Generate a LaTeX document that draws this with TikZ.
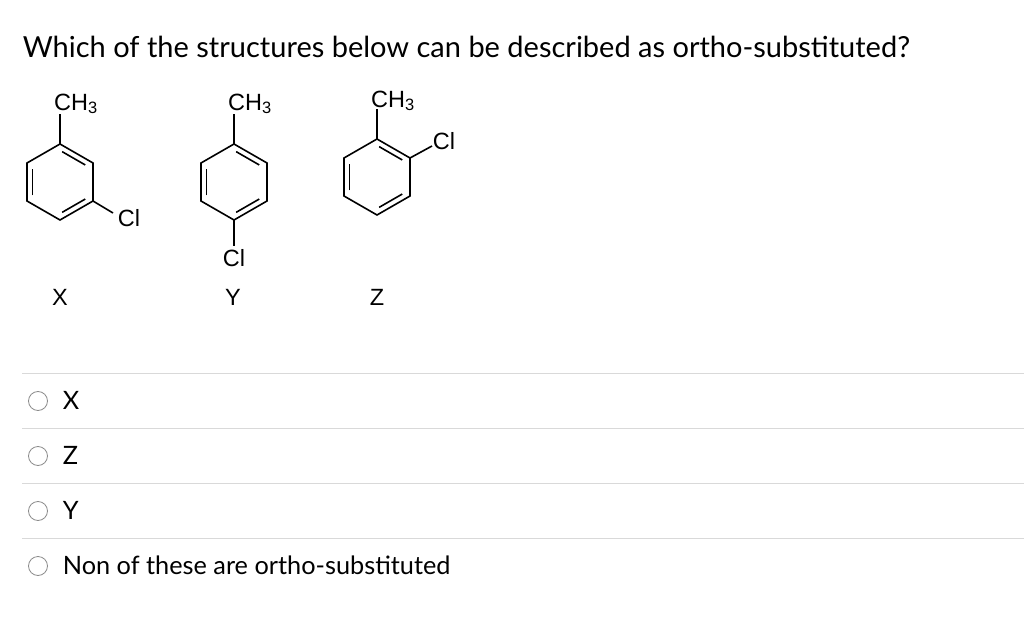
\documentclass[tikz,border=0pt]{standalone}
\usepackage{fontspec}
\usetikzlibrary{calc}
\setmainfont{Lato}
\newfontfamily\chemf{Liberation Sans}
\begin{document}
\begin{tikzpicture}[x=1pt,y=-1pt,line width=1.6pt,
  lab/.style={font=\chemf\fontsize{23.5}{24}\selectfont,inner sep=0pt},
  ans/.style={font=\fontsize{25.3}{27}\selectfont,anchor=west,inner sep=0pt},
  sep/.style={draw=black!15,line width=0.8pt},
  radio/.style={draw=black!45,line width=0.8pt,circle,minimum size=19pt,inner sep=0pt}]
\useasboundingbox (0,0) rectangle (1024,617);
\node[anchor=base west,inner sep=0pt,font=\fontsize{29}{32}\selectfont] (title) at (22,58) {Which of the structures below can be described as ortho-substituted?};
\foreach \n/\cx/\cy in {X/60/182,Y/234/182,Z/377/177}{
  \begin{scope}[shift={(\cx,\cy)}]
    \coordinate (\n1) at (0,-38); \coordinate (\n2) at (33,-19); \coordinate (\n3) at (33,19);
    \coordinate (\n4) at (0,38); \coordinate (\n5) at (-33,19); \coordinate (\n6) at (-33,-19);
    \draw[line join=miter] (\n1)--(\n2)--(\n3)--(\n4)--(\n5)--(\n6)--cycle;
    \draw ($(\n1)!0.15!(\n2)+(-2.8,4.8)$) -- ($(\n1)!0.85!(\n2)+(-2.8,4.8)$);
    \draw ($(\n3)!0.15!(\n4)+(-2.8,-4.8)$) -- ($(\n3)!0.85!(\n4)+(-2.8,-4.8)$);
    \draw ($(\n5)!0.15!(\n6)+(5.5,0)$) -- ($(\n5)!0.85!(\n6)+(5.5,0)$);
    \draw (\n1) -- (0,-68);
  \end{scope}}
\node[lab] (chx) at (76,104) {CH\textsubscript{3}};
\node[lab] (chy) at (250,104) {CH\textsubscript{3}};
\node[lab] (chz) at (393,101) {CH\textsubscript{3}};
\node[lab] (clx) at (129,218) {Cl};
\draw (X3) -- (113,213);
\node[lab] (cly) at (234,258) {Cl};
\draw (Y4) -- (234,246);
\node[lab] (clz) at (444,141) {Cl};
\draw (Z2) -- (432,146);
\node[lab] (lx) at (60,297) {X};
\node[lab] (ly) at (233,297) {Y};
\node[lab] (lz) at (377,297) {Z};
\foreach \y in {373,428,483,538} \draw[sep] (22,\y) -- (1024,\y);
\foreach \y/\t/\k in {401/X/a,456/Z/b,511/Y/c,566/Non of these are ortho-substituted/d}{
  \node[radio] (r\k) at (38,\y) {};
  \node[ans] (t\k) at (62,\y-1) {\t};}
\end{tikzpicture}
\end{document}
